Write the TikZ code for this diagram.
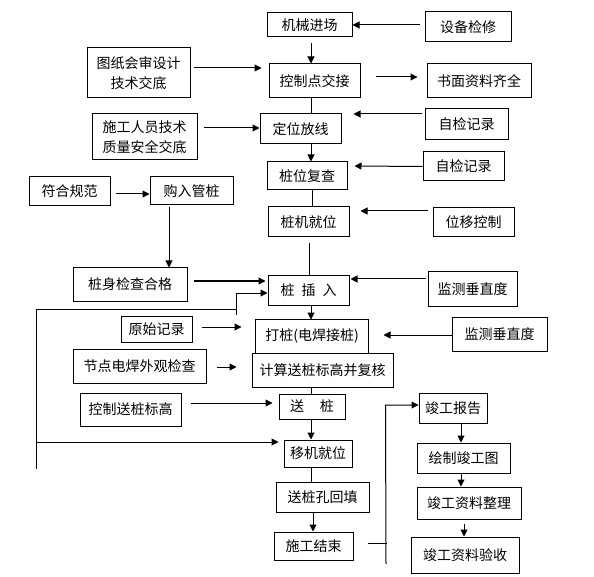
\documentclass[tikz,border=0pt]{standalone}
\usepackage{fontspec}
\newfontfamily\cjk{Noto Sans CJK SC}
\usetikzlibrary{arrows.meta}
\begin{document}
\begin{tikzpicture}[x=1pt,y=-1pt,line width=1pt,
  bx/.style={draw,line width=1pt,inner sep=0pt,align=center,font=\cjk\fontsize{14}{20}\selectfont},
  txt/.style={inner sep=0pt,align=center,font=\cjk\fontsize{14}{20}\selectfont},
  arr/.style={-{Triangle[length=7pt,width=7pt]}}]
\useasboundingbox (0,0) rectangle (594,577);
% boxes
\node[bx,minimum width=85pt,minimum height=24pt] (mech) at (309.5,25) {机械进场};
\node[bx,minimum width=86pt,minimum height=30pt] (shebei) at (468,27) {设备检修};
\node[bx,minimum width=103pt,minimum height=50pt] (tuzhi) at (138.5,73) {图纸会审设计\\技术交底};
\node[bx,minimum width=91pt,minimum height=34pt] (kongzhi) at (314.5,81) {控制点交接};
\node[bx,minimum width=104pt,minimum height=34pt] (shumian) at (479,81) {书面资料齐全};
\node[bx,minimum width=81pt,minimum height=30pt] (dingwei) at (300.5,129) {定位放线};
\node[bx,minimum width=83pt,minimum height=31pt] (zijian1) at (466.5,124.5) {自检记录};
\node[bx,minimum width=105pt,minimum height=46pt] (shigong) at (144.5,137) {施工人员技术\\质量安全交底};
\node[bx,minimum width=80pt,minimum height=28pt] (zhuangwei) at (307,176) {桩位复查};
\node[bx,minimum width=81pt,minimum height=29pt] (zijian2) at (463.5,166.5) {自检记录};
\node[bx,minimum width=81pt,minimum height=29pt] (fuhe) at (69.5,191.5) {符合规范};
\node[bx,minimum width=83pt,minimum height=28pt] (gouru) at (191.5,191) {购入管桩};
\node[bx,minimum width=81pt,minimum height=30pt] (zhuangji) at (308.5,222) {桩机就位};
\node[bx,minimum width=81pt,minimum height=29pt] (weiyi) at (473.5,222.5) {位移控制};
\node[bx,minimum width=114pt,minimum height=33pt] (zhuangshen) at (130,284.5) {桩身检查合格};
\node[bx,minimum width=81pt,minimum height=29pt] (charu) at (308.5,290.5) {桩\hspace{7pt}插\hspace{7pt}入};
\node[bx,minimum width=89pt,minimum height=34pt] (jiance1) at (472.5,289) {监测垂直度};
\node[bx,minimum width=71pt,minimum height=26pt] (yuanshi) at (156.5,329) {原始记录};
\node[txt,minimum width=112pt,minimum height=33pt] (dz) at (312,336.5) {\raisebox{3pt}{打桩(电焊接桩)}};
\draw (dz.south west) -- (dz.north west) -- (dz.north east) -- (dz.south east);
\node[bx,minimum width=95pt,minimum height=34pt] (jiance2) at (499.5,334) {监测垂直度};
\node[bx,minimum width=133pt,minimum height=34pt] (jiedian) at (139.5,366) {节点电焊外观检查};
\node[bx,minimum width=141pt,minimum height=34pt] (jisuan) at (322.5,370) {计算送桩标高并复核};
\node[bx,minimum width=101pt,minimum height=33pt] (kongsong) at (130.5,409.5) {控制送桩标高};
\node[bx,minimum width=66pt,minimum height=25pt] (songzhuang) at (312,406.5) {送\hspace{16pt}桩};
\node[bx,minimum width=68pt,minimum height=27pt] (yiji) at (318,453.5) {移机就位};
\node[bx,minimum width=93pt,minimum height=30pt] (songkong) at (322.5,497) {送桩孔回填};
\node[bx,minimum width=79pt,minimum height=28pt] (jieshu) at (313.5,546) {施工结束};
\node[bx,minimum width=68pt,minimum height=30pt] (jungong) at (453,408) {竣工报告};
\node[bx,minimum width=93pt,minimum height=30pt] (huizhi) at (463.5,458) {绘制竣工图};
\node[bx,minimum width=104pt,minimum height=32pt] (zhengli) at (469,503) {竣工资料整理};
\node[bx,minimum width=108pt,minimum height=36pt] (yanshou) at (465,555) {竣工资料验收};
% coordinates
\coordinate (lt) at (36,309);
\coordinate (lb) at (36,469);
\coordinate (lm) at (36,442);
\coordinate (lk) at (236,309);
\coordinate (jv) at (386,564);
% vertical connectors
\draw[arr] ([xshift=1.5pt,yshift=-6pt]mech.south) -- ([xshift=-3.5pt]kongzhi.north);
\draw ([xshift=-3.5pt]kongzhi.south) -- ([xshift=10.5pt]dingwei.north);
\draw[arr] ([xshift=10.5pt]dingwei.south) -- ([xshift=4pt]zhuangwei.north);
\draw ([xshift=5pt]zhuangwei.south) -- ([xshift=3.5pt]zhuangji.north);
\draw ([xshift=0.5pt,yshift=-6pt]zhuangji.south) -- ([xshift=0.5pt]charu.north);
\draw[arr] ([xshift=-22.5pt,yshift=-2pt]gouru.south) -- ([xshift=39pt]zhuangshen.north);
\draw[arr] ([xshift=2.5pt]charu.south) -- ([xshift=-1pt]dz.north);
\draw ([xshift=-11.5pt]jisuan.south) -- ([xshift=-1pt]songzhuang.north);
\draw[arr] ([xshift=-1pt]songzhuang.south) -- ([xshift=-7pt]yiji.north);
\draw ([xshift=-7pt]yiji.south) -- ([xshift=-11.5pt]songkong.north);
\draw[arr] ([xshift=-9.5pt]songkong.south) -- ([xshift=-0.5pt]jieshu.north);
\draw[arr] ([xshift=8pt]jungong.south) -- ([xshift=-2.5pt]huizhi.north);
\draw[arr] ([xshift=-2.5pt]huizhi.south) -- ([xshift=-8pt]zhengli.north);
\draw[arr] ([xshift=-5pt,yshift=-4pt]zhengli.south) -- ([xshift=-1pt]yanshou.north);
% horizontal connectors
\draw[arr] ([xshift=-5pt,yshift=2pt]shebei.west) -- (mech.east);
\draw[arr] ([xshift=3pt,yshift=5pt]tuzhi.east) -- ([xshift=-7pt,yshift=13pt]kongzhi.west);
\draw[arr] ([xshift=15pt,yshift=4pt]kongzhi.east) -- ([xshift=-9pt,yshift=4pt]shumian.west);
\draw[arr] ([xshift=-3pt,yshift=10.5pt]zijian1.west) -- ([xshift=12pt,yshift=15pt]dingwei.east);
\draw[arr] ([xshift=6pt,yshift=9pt]shigong.east) -- ([yshift=1pt]dingwei.west);
\draw[arr] (zijian2.west) -- ([xshift=7pt,yshift=10pt]zhuangwei.east);
\draw[arr] ([xshift=5pt,yshift=-2.5pt]fuhe.east) -- ([yshift=-3pt]gouru.west);
\draw[arr] ([xshift=-5pt,yshift=11.5pt]weiyi.west) -- ([xshift=11pt,yshift=11pt]zhuangji.east);
\draw[arr] ([xshift=6pt,yshift=3.5pt]zhuangshen.east) -- ([xshift=-2pt,yshift=9.5pt]charu.west);
\draw[arr] ([xshift=-2pt,yshift=10pt]jiance1.west) -- ([xshift=1pt,yshift=11.5pt]charu.east);
\draw[arr] ([xshift=9pt,yshift=2pt]yuanshi.east) -- ([xshift=-14pt,yshift=9.5pt]dz.west);
\draw[arr] ([yshift=-1pt]jiance2.west) -- ([xshift=15pt,yshift=1.5pt]dz.east);
\draw[arr] ([xshift=10pt,yshift=-1pt]jiedian.east) -- ([xshift=-15pt,yshift=3pt]jisuan.west);
\draw[arr] ([xshift=9pt,yshift=6.5pt]kongsong.east) -- ([xshift=-6pt,yshift=3.5pt]songzhuang.west);
% loop on the left
\draw (lt) -- (lb);
\draw (lt) -- (lk);
\draw[arr] ([yshift=-6pt]lk) -- ([yshift=16pt]lk) -- ([yshift=-2.5pt]charu.west);
\draw[arr] (lm) -- ([xshift=-5pt,yshift=11.5pt]yiji.west);
% to completion report
\draw ([xshift=14pt,yshift=3pt]jieshu.east) -- ++(19,0);
\draw[arr] (jv) -- ([xshift=-33pt,yshift=3pt]jungong.west) -- ([yshift=3pt]jungong.west);
\end{tikzpicture}
\end{document}
